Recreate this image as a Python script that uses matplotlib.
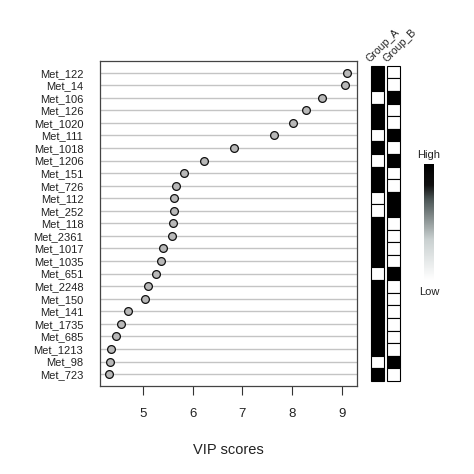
import matplotlib
matplotlib.use("Agg")
import matplotlib.pyplot as plt
import numpy as np
from matplotlib.colors import LinearSegmentedColormap

plt.rcParams["font.family"] = ["Liberation Sans", "DejaVu Sans"]

# metabolites, top to bottom
metabolites = [
    "Met_122", "Met_14", "Met_106", "Met_126", "Met_1020", "Met_111",
    "Met_1018", "Met_1206", "Met_151", "Met_726", "Met_112", "Met_252",
    "Met_118", "Met_2361", "Met_1017", "Met_1035", "Met_651", "Met_2248",
    "Met_150", "Met_141", "Met_1735", "Met_685", "Met_1213", "Met_98",
    "Met_723",
]
vip_scores = [
    9.11, 9.07, 8.61, 8.29, 8.01, 7.64, 6.83, 6.22, 5.82, 5.66, 5.61, 5.61,
    5.60, 5.58, 5.40, 5.36, 5.25, 5.10, 5.03, 4.69, 4.55, 4.45, 4.34, 4.33,
    4.31,
]
# 1 = high (black), 0 = low (white)
group_a = [1, 1, 0, 1, 1, 0, 1, 0, 1, 1, 0, 0, 1, 1, 1, 1, 0, 1, 1, 1, 1, 1, 1, 0, 1]
group_b = [1 - v for v in group_a]
group_names = ["Group_A", "Group_B"]
x_ticks = [5, 6, 7, 8, 9]

W = H = 474
fig = plt.figure(figsize=(4.74, 4.74), dpi=100)


def box(left, top, right, bottom):
    return [left / W, 1 - bottom / H, (right - left) / W, (bottom - top) / H]


n = len(metabolites)
ypos = np.arange(n)[::-1]

ax = fig.add_axes(box(100, 61, 357, 386))
for y in ypos:
    ax.axhline(y, color="#c4c4c4", lw=1.0, zorder=1)
ax.plot(vip_scores, ypos, "o", ms=5.6, mfc="#b8b8b8", mec="#111111", mew=0.9,
        ls="none", zorder=3)
ax.set_xlim(4.127, 9.31)
ax.set_ylim(-0.95, n - 1 + 0.93)
ax.set_yticks(ypos)
ax.set_yticklabels(metabolites, fontsize=8, color="#222222")
ax.set_xticks(x_ticks)
ax.set_xticklabels([str(t) for t in x_ticks], fontsize=9.5, color="#222222")
ax.tick_params(axis="y", length=0, pad=12)
ax.tick_params(axis="x", length=6.5, width=0.8, pad=9, color="#333333")
ax.set_xlabel("VIP scores", fontsize=10.5, labelpad=17, color="#222222")
for s in ax.spines.values():
    s.set_color("#444444")
    s.set_linewidth(0.9)

# group heatmap
hx = fig.add_axes(box(370.7, 65.7, 400, 381))
col_left = [0, 1.27]
for left, vals in zip(col_left, [group_a, group_b]):
    colors = ["black" if v else "white" for v in vals]
    bars = hx.barh(ypos, 1, left=left, height=1, color=colors, edgecolor="black",
                   linewidth=0.8)
    for b in bars:
        b.set_clip_on(False)
hx.set_xlim(0, 2.27)
hx.set_ylim(-0.5, n - 0.5)
hx.axis("off")
for left, name in zip(col_left, group_names):
    hx.text(left + 0.1, n - 0.4, name, rotation=45, rotation_mode="anchor",
            ha="left", va="bottom", fontsize=7.6, color="#222222")

# legend gradient
cmap = LinearSegmentedColormap.from_list(
    "hl", [(0, "white"), (0.35, "#c9d0d0"), (0.7, "#4a5454"), (0.82, "#111111"), (1, "black")])
cx = fig.add_axes(box(424, 164, 434, 280))
grad = np.linspace(1, 0, 200).reshape(-1, 1)
cx.imshow(grad, aspect="auto", cmap=cmap, vmin=0, vmax=1)
cx.axis("off")
fig.text(429 / W, 1 - 155 / H, "High", ha="center", va="center", fontsize=8, color="#222222")
fig.text(429 / W, 1 - 292 / H, "Low", ha="center", va="center", fontsize=8, color="#222222")

fig.savefig("out.png", dpi=100)
